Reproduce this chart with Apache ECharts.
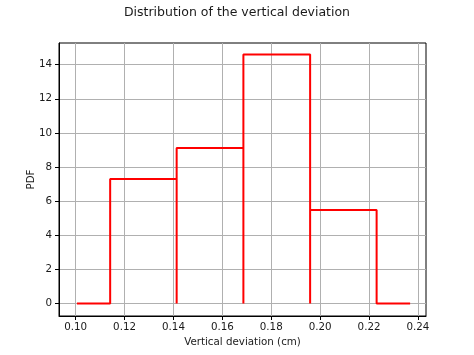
<!DOCTYPE html>
<html>
<head>
<meta charset="utf-8">
<script src="https://cdn.jsdelivr.net/npm/echarts@6/dist/echarts.min.js"></script>
<style>
html,body{margin:0;padding:0;background:#fff;}
#chart{width:474px;height:355px;}
</style>
</head>
<body>
<div id="chart"></div>
<script>
// Histogram bin edges (cm) and PDF heights
const binEdges = [0.1141, 0.1413, 0.1686, 0.1959, 0.2231];
const pdfValues = [7.30, 9.12, 14.59, 5.48];
const rangeStart = 0.1005;
const rangeEnd = 0.2368;
const xTicks = [0.10, 0.12, 0.14, 0.16, 0.18, 0.20, 0.22, 0.24];
const xTickLabels = ['0.10','0.12','0.14','0.16','0.18','0.20','0.22','0.24'];
const yTicks = [0, 2, 4, 6, 8, 10, 12, 14];
const yTickLabels = ['0','2','4','6','8','10','12','14'];

const pts = [[rangeStart, 0], [binEdges[0], 0]];
for (let i = 0; i < pdfValues.length; i++) {
  pts.push([binEdges[i], pdfValues[i]]);
  pts.push([binEdges[i + 1], pdfValues[i]]);
  pts.push([binEdges[i + 1], 0]);
}
pts.push([rangeEnd, 0]);

const txt = '#1a1a1a';
const font = 'DejaVu Sans';
const lab = (ticks, labels) => v => {
  let best = 0;
  for (let i = 1; i < ticks.length; i++) if (Math.abs(ticks[i] - v) < Math.abs(ticks[best] - v)) best = i;
  return labels[best];
};
const chart = echarts.init(document.getElementById('chart'), null, {renderer: 'canvas'});
chart.setOption({
  animation: false,
  backgroundColor: '#fff',
  title: {
    text: 'Distribution of the vertical deviation',
    left: 'center', top: 1,
    textStyle: {fontFamily: font, fontSize: 12.5, fontWeight: 'normal', color: txt}
  },
  grid: {left: 59, right: 48, top: 43, bottom: 39, show: true, borderColor: '#000', borderWidth: 1, backgroundColor: 'transparent'},
  xAxis: {
    type: 'value', min: 0.09317, max: 0.2433,
    name: 'Vertical deviation (cm)', nameLocation: 'middle', nameGap: 20,
    nameTextStyle: {fontFamily: font, fontSize: 10.3, color: txt},
    axisLine: {show: true, onZero: false, lineStyle: {color: '#000', width: 1}},
    axisTick: {show: true, length: 4, customValues: xTicks, lineStyle: {color: '#000'}},
    axisLabel: {customValues: xTicks, margin: 6, fontFamily: font, fontSize: 10.3, color: txt,
      formatter: lab(xTicks, xTickLabels)},
    splitLine: {show: true, lineStyle: {color: '#b0b0b0', width: 1}}
  },
  yAxis: {
    type: 'value', min: -0.73, max: 15.27,
    name: 'PDF', nameLocation: 'middle', nameGap: 23, nameMoveOverlap: false,
    nameTextStyle: {fontFamily: font, fontSize: 10.3, color: txt},
    axisLine: {show: true, onZero: false, lineStyle: {color: '#000', width: 1}},
    axisTick: {show: true, length: 4, customValues: yTicks, lineStyle: {color: '#000'}},
    axisLabel: {customValues: yTicks, margin: 7, fontFamily: font, fontSize: 10.3, color: txt,
      formatter: lab(yTicks, yTickLabels)},
    splitLine: {show: true, lineStyle: {color: '#b0b0b0', width: 1}}
  },
  series: [{
    type: 'line', data: pts, showSymbol: false, symbol: 'none',
    lineStyle: {color: '#ff0000', width: 2}, z: 5
  }]
});
</script>
</body>
</html>
